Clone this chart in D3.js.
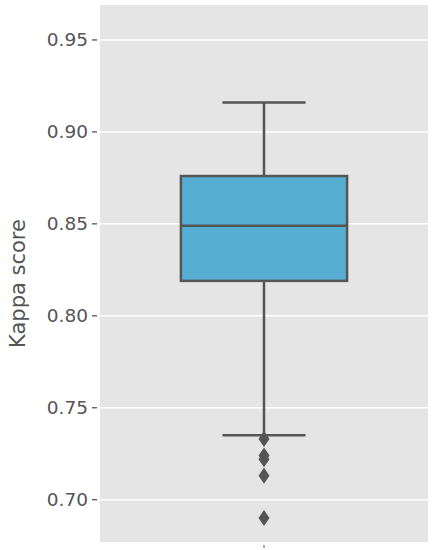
<!DOCTYPE html><html><head><script src="https://cdn.jsdelivr.net/npm/d3@7"></script>
<style>body{margin:0;background:#fff}</style></head><body><svg id="c" width="434" height="550"></svg>
<script>
const ticks=[0.70,0.75,0.80,0.85,0.90,0.95];
const stats={q1:0.819,median:0.849,q3:0.876,lo:0.735,hi:0.916};
const outliers=[0.733,0.724,0.722,0.713,0.690];
const svg=d3.select("#c");
const L=100,R=428,T=5,B=542;
const y=d3.scaleLinear().domain([0.677,0.969]).range([B,T]);
const x=d3.scaleBand().domain(["a"]).range([L,R]).paddingInner(0).paddingOuter(0.25);
const cx=x("a")+x.bandwidth()/2;
const bw=x.bandwidth()*0.76;
svg.append("rect").attr("x",L).attr("y",T).attr("width",R-L).attr("height",B-T).attr("fill","#e5e5e5");
const g=svg.append("g");
ticks.forEach(t=>{
 g.append("line").attr("x1",L).attr("x2",R).attr("y1",y(t)).attr("y2",y(t)).attr("stroke","#fff").attr("stroke-width",1.5);
 g.append("line").attr("x1",L-8).attr("x2",L-3).attr("y1",y(t)).attr("y2",y(t)).attr("stroke","#555").attr("stroke-width",1.3);
 g.append("text").attr("x",L-12).attr("y",y(t)).attr("dy","0.35em").attr("text-anchor","end").attr("font-family","DejaVu Sans").attr("font-size",18.5).attr("fill","#555").text(t.toFixed(2));
});
svg.append("line").attr("x1",cx).attr("x2",cx).attr("y1",B+3).attr("y2",B+6).attr("stroke","#555");
svg.append("text").attr("transform",`translate(25,${(T+B)/2+10}) rotate(-90)`).attr("text-anchor","middle").attr("font-family","DejaVu Sans").attr("font-size",21).attr("fill","#555").text("Kappa score");
const c="#555";
svg.append("line").attr("x1",cx).attr("x2",cx).attr("y1",y(stats.hi)).attr("y2",y(stats.lo)).attr("stroke",c).attr("stroke-width",2.5);
[stats.hi,stats.lo].forEach(v=>svg.append("line").attr("x1",cx-bw/4).attr("x2",cx+bw/4).attr("y1",y(v)).attr("y2",y(v)).attr("stroke",c).attr("stroke-width",2.5));
svg.append("rect").attr("x",cx-bw/2).attr("width",bw).attr("y",y(stats.q3)).attr("height",y(stats.q1)-y(stats.q3)).attr("fill","#57aed3").attr("stroke",c).attr("stroke-width",2.5);
svg.append("line").attr("x1",cx-bw/2).attr("x2",cx+bw/2).attr("y1",y(stats.median)).attr("y2",y(stats.median)).attr("stroke",c).attr("stroke-width",2.5);
outliers.forEach(v=>svg.append("path").attr("d","M0,-8L5.5,0L0,8L-5.5,0Z").attr("transform",`translate(${cx},${y(v)})`).attr("fill",c));
</script></body></html>
